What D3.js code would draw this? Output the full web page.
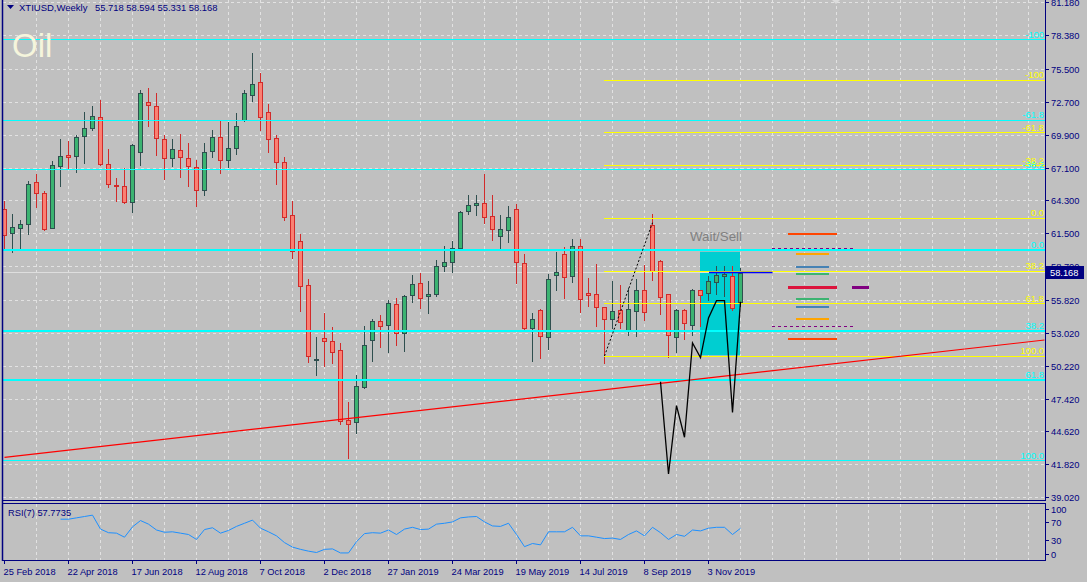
<!DOCTYPE html>
<html><head><meta charset="utf-8">
<script src="https://cdn.jsdelivr.net/npm/d3@7"></script>
<style>
body{margin:0;background:#c0c0c0;overflow:hidden}
svg{display:block}
text{font-family:"Liberation Sans",Arial,sans-serif}
</style>
</head><body>
<svg id="c" width="1087" height="582"></svg>
<script>
// ---------------- DATA ----------------
const symbolTitle = "XTIUSD,Weekly";
const lastQuote = "55.718 58.594 55.331 58.168";
const opens  = [63.61,61.54,61.97,62.31,65.88,64.97,62.02,67.30,68.21,68.10,69.80,70.51,71.42,67.44,65.65,65.54,64.18,68.44,72.70,72.36,69.55,67.93,68.61,67.93,67.16,65.19,68.51,69.72,67.74,68.78,71.15,73.29,74.40,71.85,69.63,67.59,63.07,60.86,57.10,50.78,52.62,52.34,51.56,45.61,45.44,48.49,52.43,54.04,53.70,55.49,53.02,56.26,57.28,56.17,56.35,58.78,59.07,60.26,63.41,63.92,64.09,62.99,61.28,61.80,63.58,58.98,53.45,54.98,52.68,57.96,59.75,57.88,60.43,56.43,56.34,55.24,54.24,55.01,53.33,54.90,56.69,62.25,59.15,56.34,52.68,54.98,53.76,56.69,56.43,57.37,57.88,57.88,55.718];
const highs  = [64.29,63.18,62.67,65.99,66.59,65.17,67.70,69.57,69.40,69.91,71.87,72.38,72.89,68.72,66.22,67.08,69.17,73.74,73.91,73.49,69.91,69.55,69.97,69.20,67.78,69.20,70.34,71.19,70.99,71.79,73.72,76.90,75.19,72.55,69.91,68.04,64.29,61.48,57.65,52.71,54.75,53.53,52.20,47.17,49.47,53.64,54.24,54.58,55.86,56.00,56.26,57.99,58.13,57.48,59.27,60.46,60.88,63.44,64.80,64.80,66.59,64.80,63.10,63.86,64.03,59.78,54.73,55.05,58.05,59.92,60.35,61.03,61.03,57.76,58.92,55.30,57.48,57.11,56.91,57.62,58.87,63.16,59.25,56.40,55.05,55.05,56.77,56.75,57.90,58.73,58.73,58.73,58.594];
const lows   = [60.20,59.92,60.23,61.45,63.75,61.85,61.98,65.59,67.08,66.79,67.55,70.31,67.38,65.51,64.27,64.09,63.38,67.38,70.70,68.21,66.16,67.30,66.36,65.59,63.89,64.80,68.06,66.70,67.21,68.29,71.10,72.83,70.36,68.49,65.76,62.67,59.46,54.95,50.60,49.47,50.26,50.52,45.26,42.43,44.56,48.34,50.69,51.88,51.46,52.05,51.54,55.71,55.20,54.78,56.20,58.35,58.27,60.23,63.16,63.10,62.39,60.99,60.12,60.80,57.33,53.24,50.69,50.94,51.71,56.74,56.05,57.42,54.86,55.37,53.67,50.52,53.47,53.47,52.90,52.82,54.16,57.56,54.69,51.00,51.41,52.51,52.90,53.67,55.86,56.34,56.22,55.01,55.331];
const closes = [61.39,62.05,62.31,65.74,64.95,61.91,67.33,68.12,68.01,69.74,70.51,71.50,67.47,65.71,65.54,64.18,69.06,73.46,72.44,69.63,67.93,68.69,68.00,67.25,65.19,68.44,69.72,67.74,68.78,70.65,73.46,74.23,71.42,69.55,67.65,62.97,60.03,57.09,51.05,50.84,52.34,51.47,45.55,45.27,48.51,52.00,54.04,53.62,55.58,53.02,56.24,57.20,56.00,56.37,58.74,59.07,60.26,63.33,63.92,64.09,62.90,61.93,61.88,62.90,59.07,53.45,54.21,52.77,57.62,58.22,57.79,60.43,55.92,56.26,55.24,54.21,54.90,53.96,55.07,56.69,54.81,58.35,56.14,52.90,54.98,53.87,56.69,56.26,57.45,57.96,58.05,55.20,58.168];

const dateLabels = ["25 Feb 2018","22 Apr 2018","17 Jun 2018","12 Aug 2018","7 Oct 2018","2 Dec 2018","27 Jan 2019","24 Mar 2019","19 May 2019","14 Jul 2019","8 Sep 2019","3 Nov 2019"];
const dateLabelBars = [0,8,16,24,32,40,48,56,64,72,80,88];
const priceTicks = [81.18,78.38,75.5,72.7,69.9,67.1,64.3,61.5,58.7,55.82,53.02,50.22,47.42,44.62,41.82,39.02];
const rsiTicks = [100,70,30,0];

// RSI(7) values read from the sub-window, starting at bar 7
const rsiStart = 7;
const rsiValues = [78,78,81,84,87,56,48,47,38,61,75,67,54,49,50,47,44,33,55,59,47,53,62,69,76,58,50,41,26,16,11,7,4,11,12,3,3,28,46,48,47,54,44,56,60,55,56,67,69,72,81,83,84,72,63,62,69,44,17,24,21,50,50,50,60,41,41,38,35,36,33,44,52,41,60,48,33,44,40,54,52,58,60,60,44,57.77];

// black projection line, bars 82..92
const projStart = 82;
const projValues = [48.90,41.04,46.86,44.17,52.20,50.96,54.33,55.80,55.80,46.29,55.71];

// Fibonacci tools
const fibLevels = [100,61.8,38.2,0,-38.2,-61.8,-100];
const cyanFib = {p0:60.09, p100:42.15};
const cyanThick = [61.8,38.2,0];
const yellowFib = {p0:62.82, p100:51.06, fromBar:75, toBar:81};

// trend line (bar, price)
const trendBars = [0,130];
const trendPrices = [42.46,52.45];

// pivot style levels drawn on the right
const pivotPrices = [61.51,60.26,59.78,58.69,58.07,56.94,55.97,55.29,54.27,53.62,52.56,56.94];
const pivotColors = ["#ff4500","#800080","#ffa500","#4682b4","#3cb371","#dc143c","#3cb371","#4682b4","#ffa500","#800080","#ff4500","#800080"];
const pivotFrom   = [98,96,99,99,99,98,99,99,99,96,98,106];
const pivotTo     = [104,106,103,103,103,104,103,103,103,106,104,108];
const pivotWidth  = [2,1,2,2,2,3,2,2,2,1,2,3];
const pivotDashed = [0,1,0,0,0,0,0,0,0,1,0,0];

const boxBars = [87,92], boxPrices = [59.97,51.15];
const blueLine = {from:88, to:96, price:58.24};
const bidPrice = 58.168;

// ---------------- CHART ----------------
const svg = d3.select("#c");
const W = 1087, H = 582, axisX = 1045;
const xs = d3.scaleLinear().domain([0,130]).range([4.5, 4.5+8*130]);
const ys = d3.scaleLinear().domain([39.02,81.18]).range([497.7,2.7]);
const yr = d3.scaleLinear().domain([0,100]).range([554.3,509.3]);
const crisp = v => Math.floor(v)+0.5;
const navy = "#000080";
const grid = "#e2e2e2";

svg.append("rect").attr("width",W).attr("height",H).attr("fill","#c0c0c0");
const defs = svg.append("defs");
defs.append("clipPath").attr("id","mainClip").append("rect").attr("x",3).attr("y",0).attr("width",axisX-3).attr("height",500);
defs.append("clipPath").attr("id","rsiClip").append("rect").attr("x",3).attr("y",504).attr("width",axisX-3).attr("height",56);

const main = svg.append("g").attr("clip-path","url(#mainClip)");

// grid
const vgrid = d3.range(36, axisX, 32);
main.selectAll(".hg").data(priceTicks).join("line")
  .attr("x1",3).attr("x2",axisX).attr("y1",d=>crisp(ys(d))).attr("y2",d=>crisp(ys(d)))
  .attr("stroke",grid).attr("stroke-dasharray","3,3");
main.selectAll(".vg").data(vgrid).join("line")
  .attr("x1",d=>d+0.5).attr("x2",d=>d+0.5).attr("y1",0).attr("y2",500)
  .attr("stroke",grid).attr("stroke-dasharray","3,3");

// cyan box (background)
main.append("rect").attr("x",xs(boxBars[0])-0.5).attr("y",ys(boxPrices[0]))
  .attr("width",xs(boxBars[1])-xs(boxBars[0])).attr("height",ys(boxPrices[1])-ys(boxPrices[0]))
  .attr("fill","#00ced1");

// bid line
main.append("line").attr("x1",3).attr("x2",axisX).attr("y1",crisp(ys(bidPrice))).attr("y2",crisp(ys(bidPrice)))
  .attr("stroke","#dedede");

// candles
const bars = closes.map((c,i)=>({i,o:opens[i],h:highs[i],l:lows[i],c}));
const cg = main.append("g");
bars.forEach(b=>{
  const bull = b.c >= b.o;
  const stroke = bull ? "#2f4f4f" : "#d22a2a";
  const fill = bull ? "#3cb371" : "#fa8072";
  const cx = Math.floor(xs(b.i));
  cg.append("line").attr("x1",cx+0.5).attr("x2",cx+0.5).attr("y1",Math.round(ys(b.h))).attr("y2",Math.round(ys(b.l))+1)
    .attr("stroke",stroke);
  let top = Math.round(ys(Math.max(b.o,b.c))), bot = Math.round(ys(Math.min(b.o,b.c)));
  if (bot-top < 1) bot = top+1;
  cg.append("rect").attr("x",cx-1.5).attr("y",top+0.5).attr("width",4).attr("height",bot-top)
    .attr("fill",fill).attr("stroke",stroke);
});

// fib helper
const fibPrice = (f,L)=> f.p0 + (f.p100-f.p0)*L/100;
const fibText = L => L===0 ? "0.0" : L===100 ? "100.0" : L===-100 ? "-100" : L.toFixed(1);

// cyan fibonacci (full width)
fibLevels.forEach(L=>{
  const y = ys(fibPrice(cyanFib,L));
  const thick = cyanThick.includes(L);
  main.append("line").attr("x1",3).attr("x2",axisX).attr("y1",thick?Math.round(y):crisp(y)).attr("y2",thick?Math.round(y):crisp(y))
    .attr("stroke","#00ffff").attr("stroke-width",thick?2:1);
});
// yellow fibonacci
fibLevels.forEach(L=>{
  const y = crisp(ys(fibPrice(yellowFib,L)));
  main.append("line").attr("x1",xs(yellowFib.fromBar)-0.5).attr("x2",axisX).attr("y1",y).attr("y2",y)
    .attr("stroke","#ffff00").attr("stroke-width",1);
});
// fib labels
fibLevels.forEach(L=>{
  const yc = ys(fibPrice(cyanFib,L)), yy = ys(fibPrice(yellowFib,L));
  svg.append("text").attr("x",1044).attr("y",yc-2).attr("text-anchor","end").attr("font-size",9.5)
    .attr("fill","#00ffff").text(fibText(L));
  svg.append("text").attr("x",1044).attr("y",yy-2).attr("text-anchor","end").attr("font-size",9.5)
    .attr("fill","#ffff00").text(fibText(L));
});

// trend line
main.append("line").attr("x1",xs(trendBars[0])).attr("y1",ys(trendPrices[0]))
  .attr("x2",xs(trendBars[1])).attr("y2",ys(trendPrices[1])).attr("stroke","#ff0000").attr("stroke-width",1.2);

// dotted fib anchor line
main.append("line").attr("x1",xs(yellowFib.fromBar)).attr("y1",ys(51.09))
  .attr("x2",xs(yellowFib.toBar)).attr("y2",ys(62.44)).attr("stroke","#000").attr("stroke-dasharray","2,2");

// black projection line
const projLine = d3.line().x((d,k)=>xs(projStart+k)).y(d=>ys(d));
main.append("path").attr("d",projLine(projValues)).attr("fill","none").attr("stroke","#000").attr("stroke-width",1.3);

// blue short line
main.append("line").attr("x1",xs(blueLine.from)+0.5).attr("x2",xs(blueLine.to)).attr("y1",crisp(ys(blueLine.price))).attr("y2",crisp(ys(blueLine.price)))
  .attr("stroke","#0000ff").attr("stroke-width",1.5);

// pivot levels
pivotPrices.forEach((p,k)=>{
  const y = pivotWidth[k]%2 ? crisp(ys(p)) : Math.round(ys(p));
  main.append("line").attr("x1",xs(pivotFrom[k])-0.5).attr("x2",xs(pivotTo[k])+0.5).attr("y1",y).attr("y2",y)
    .attr("stroke",pivotColors[k]).attr("stroke-width",pivotWidth[k])
    .attr("stroke-dasharray",pivotDashed[k]?"3,3":null);
});

// texts on chart
svg.append("text").attr("x",690).attr("y",240.5).attr("font-size",13.3).attr("fill","#808080").text("Wait/Sell");
svg.append("text").attr("x",12).attr("y",57).attr("font-size",33).attr("fill","#f5f5dc").text("Oil");

// chart shift marker
svg.append("path").attr("d","M832,0 L840,0 L836,4 Z").attr("fill","#dcdcdc");

// title
svg.append("path").attr("d","M7,5 L14,5 L10.5,9 Z").attr("fill",navy);
svg.append("text").attr("x",19).attr("y",11).attr("font-size",9.5).attr("fill",navy).text(symbolTitle);
svg.append("text").attr("x",95).attr("y",11).attr("font-size",9.4).attr("fill",navy).text(lastQuote);

// right price axis
svg.append("line").attr("x1",axisX+0.5).attr("x2",axisX+0.5).attr("y1",0).attr("y2",501).attr("stroke",navy);
priceTicks.forEach(t=>{
  const y = crisp(ys(t));
  svg.append("line").attr("x1",axisX).attr("x2",axisX+4).attr("y1",y).attr("y2",y).attr("stroke",navy);
  svg.append("text").attr("x",1051).attr("y",y+3.5).attr("font-size",9.3).attr("fill",navy).text(d3.format(".3f")(t));
});
// bid price tag
svg.append("rect").attr("x",1046).attr("y",crisp(ys(bidPrice))-6.5).attr("width",38).attr("height",13).attr("fill",navy);
svg.append("text").attr("x",1050).attr("y",crisp(ys(bidPrice))+3.5).attr("font-size",9.3).attr("fill","#fff").text(d3.format(".3f")(bidPrice));

// frame
svg.append("line").attr("x1",2.5).attr("x2",2.5).attr("y1",0).attr("y2",561).attr("stroke",navy).attr("stroke-width",1.5);
svg.append("line").attr("x1",2).attr("x2",axisX+1).attr("y1",500.5).attr("y2",500.5).attr("stroke",navy);

// ---------------- RSI window ----------------
const rsi = svg.append("g");
const rsiG = rsi.append("g").attr("clip-path","url(#rsiClip)");
rsiG.selectAll(".rv").data(vgrid).join("line")
  .attr("x1",d=>d+0.5).attr("x2",d=>d+0.5).attr("y1",504).attr("y2",560)
  .attr("stroke",grid).attr("stroke-dasharray","3,3");
const rsiLine = d3.line().x((d,k)=>xs(rsiStart+k)).y(d=>yr(d));
rsiG.append("path").attr("d",rsiLine(rsiValues)).attr("fill","none").attr("stroke","#1e90ff").attr("stroke-width",1);
rsi.append("line").attr("x1",2).attr("x2",axisX+1).attr("y1",503.5).attr("y2",503.5).attr("stroke",navy);
rsi.append("line").attr("x1",2).attr("x2",axisX+1).attr("y1",560.5).attr("y2",560.5).attr("stroke",navy);
rsi.append("line").attr("x1",axisX+0.5).attr("x2",axisX+0.5).attr("y1",503).attr("y2",561).attr("stroke",navy);
rsiTicks.forEach(t=>{
  const y = crisp(yr(t));
  rsi.append("line").attr("x1",axisX).attr("x2",axisX+4).attr("y1",y).attr("y2",y).attr("stroke",navy);
  rsi.append("text").attr("x",1051).attr("y",y+3.5).attr("font-size",9.3).attr("fill",navy).text(t);
});
rsi.append("text").attr("x",8).attr("y",515.5).attr("font-size",9.3).attr("fill",navy).text("RSI(7) 57.7735");

// date axis
dateLabels.forEach((lab,k)=>{
  const x = Math.floor(xs(dateLabelBars[k]))+0.5;
  svg.append("line").attr("x1",x).attr("x2",x).attr("y1",560).attr("y2",564).attr("stroke",navy);
  svg.append("text").attr("x",x-1).attr("y",574.5).attr("font-size",9.3).attr("fill",navy).text(lab);
});
</script>
</body></html>
